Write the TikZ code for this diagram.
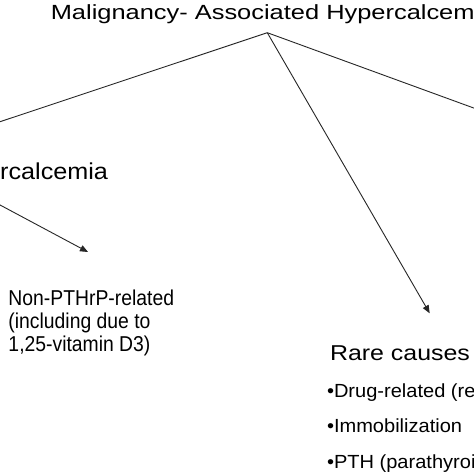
\documentclass[tikz,border=0pt]{standalone}
\usepackage{fontspec}
\setmainfont{Liberation Sans}
\usetikzlibrary{arrows.meta}
\newcommand{\fs}[2]{\fontsize{#1}{#2}\selectfont}
\begin{document}
\begin{tikzpicture}[x=1pt,y=-1pt,
  lbl/.style={inner sep=0pt, outer sep=0pt, text=black},
  conn/.style={draw=black!85, line width=0.9pt},
  arr/.style={conn, -{Triangle[length=8pt,width=6.5pt]}}]
\useasboundingbox (0,0) rectangle (474,474);
\clip (0,0) rectangle (474,474);
\fill[white] (0,0) rectangle (474,474);
% texts
\node[lbl, anchor=base west] (title) at (50.8,19.5)
  {\fs{20.5}{24}\scalebox{1.24}[1]{Malignancy- Associated Hypercalcemia}};
\node[lbl, anchor=base east] (hyper) at (108,179.5)
  {\fs{23}{27}\scalebox{1.095}[1]{Hypercalcemia}};
\node[lbl, anchor=base west] (non1) at (8.5,305)
  {\fs{21.5}{24}\scalebox{0.9}[1]{Non-PTHrP-related}};
\node[lbl, anchor=base west] (non2) at (8.5,328.3)
  {\fs{21.5}{24}\scalebox{0.9}[1]{(including due to}};
\node[lbl, anchor=base west] (non3) at (8.5,351.6)
  {\fs{21.5}{24}\scalebox{0.9}[1]{1,25-vitamin D3)}};
\node[lbl, anchor=base west] (rare) at (330,360)
  {\fs{21.5}{24}\scalebox{1.16}[1]{Rare causes}};
\node[lbl, anchor=base west] (b1) at (327,397.3)
  {\fs{19}{22}\scalebox{1.055}[1]{•Drug-related (re}};
\node[lbl, anchor=base west] (b2) at (327,432.5)
  {\fs{19}{22}\scalebox{1.055}[1]{•Immobilization}};
\node[lbl, anchor=base west] (b3) at (327,468)
  {\fs{19}{22}\scalebox{1.055}[1]{•PTH (parathyroid}};
% connector points
\coordinate (apex) at (267.3,32.7);
\coordinate (leftend) at (-60,141.7);
\coordinate (rightend) at (534,130);
\coordinate (midtip) at (429.7,313.3);
\coordinate (lsrc) at (-40,183.6);
\coordinate (ltip) at (88,252);
% connectors
\draw[conn] (apex) -- (leftend);
\draw[conn] (apex) -- (rightend);
\draw[arr] (apex) -- (midtip);
\draw[arr] (lsrc) -- (ltip);
\end{tikzpicture}
\end{document}
